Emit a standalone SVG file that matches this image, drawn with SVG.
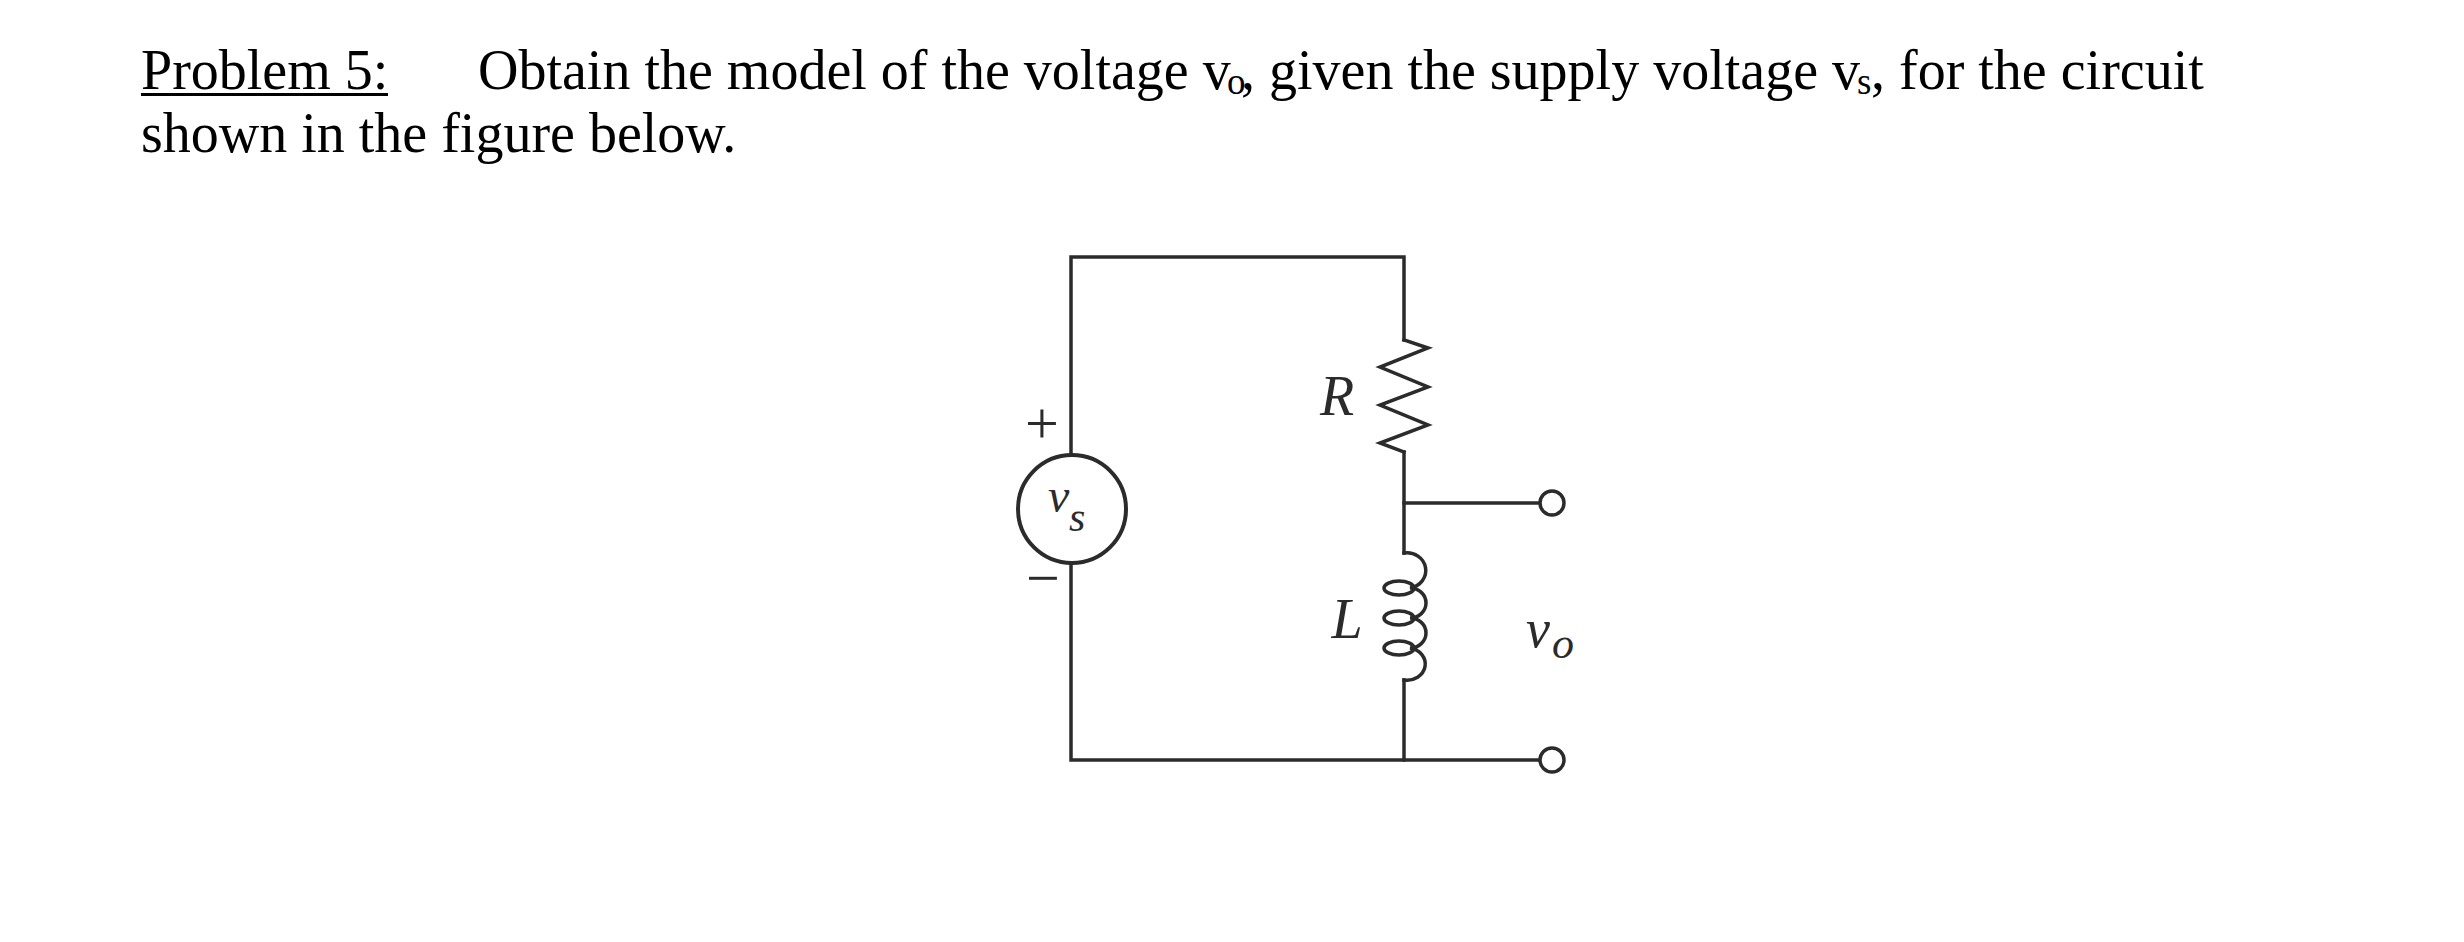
<svg xmlns="http://www.w3.org/2000/svg" width="2464" height="942" viewBox="0 0 2464 942">
<style>
.hdr{font-family:"Liberation Serif","Times New Roman",serif;font-size:56px;fill:#000}
.sub{font-size:37px}
.w{fill:none;stroke:#2b2b2b;stroke-width:3.5;stroke-linecap:square;stroke-linejoin:miter}
.lbl{font-family:"Liberation Serif","Times New Roman",serif;font-style:italic;fill:#2b2b2b}
.sym{font-family:"Liberation Serif","Times New Roman",serif;fill:#2b2b2b}
.term{fill:#fff;stroke:#2b2b2b;stroke-width:3.5}
</style>
<rect width="2464" height="942" fill="#fff"/>
<g id="header">
<text class="hdr" x="141" y="89">Problem 5:</text>
<rect x="141" y="93" width="247" height="3" fill="#000"/>
<text class="hdr" x="478" y="89">Obtain the model of the voltage v</text>
<text class="hdr sub" x="1227" y="94">o</text>
<text class="hdr" x="1241" y="89">, given the supply voltage v</text>
<text class="hdr sub" x="1857" y="94">s</text>
<text class="hdr" x="1871" y="89">, for the circuit</text>
<text class="hdr" x="141" y="152">shown in the figure below.</text>
</g>
<g id="connectors">
<path class="w" d="M1071,455 L1071,257 L1404,257 L1404,340"/>
<path class="w" d="M1404,452 L1404,553"/>
<path class="w" d="M1404,680 L1404,760"/>
<path class="w" d="M1071,563 L1071,760 L1540,760"/>
<path class="w" d="M1404,503 L1540,503"/>
</g>
<g id="source">
<circle cx="1072" cy="509" r="54" fill="#fff" stroke="#2b2b2b" stroke-width="4"/>
<text class="lbl" x="1048" y="512" font-size="48">v</text>
<text class="lbl" x="1069" y="531" font-size="42">s</text>
<text class="sym" x="1042" y="443" font-size="60" text-anchor="middle">+</text>
<text class="sym" x="1043" y="598" font-size="60" text-anchor="middle">−</text>
</g>
<g id="resistor">
<path class="w" d="M1404,340 L1428,348 L1380,367 L1428,387 L1380,405 L1428,425 L1380,443 L1404,452"/>
<text class="lbl" x="1337" y="415" font-size="56" text-anchor="middle">R</text>
</g>
<g id="inductor">
<path class="w" d="M1404,553 A18 17 0 0 1 1410,588 A16 15 0 0 1 1410,618 A16 15 0 0 1 1410,648 A18 16 0 0 1 1404,680"/>
<ellipse cx="1399" cy="588" rx="15" ry="7" fill="none" stroke="#2b2b2b" stroke-width="3.5"/>
<ellipse cx="1399" cy="618" rx="15" ry="7" fill="none" stroke="#2b2b2b" stroke-width="3.5"/>
<ellipse cx="1399" cy="648" rx="15" ry="7" fill="none" stroke="#2b2b2b" stroke-width="3.5"/>
<text class="lbl" x="1347" y="638" font-size="56" text-anchor="middle">L</text>
</g>
<g id="terminal-top">
<circle class="term" cx="1552" cy="503" r="12"/>
</g>
<g id="terminal-bottom">
<circle class="term" cx="1552" cy="760" r="12"/>
</g>
<g id="output-label">
<text class="lbl" x="1526" y="647" font-size="54">v</text>
<text class="lbl" x="1552" y="658" font-size="44">o</text>
</g>
</svg>
